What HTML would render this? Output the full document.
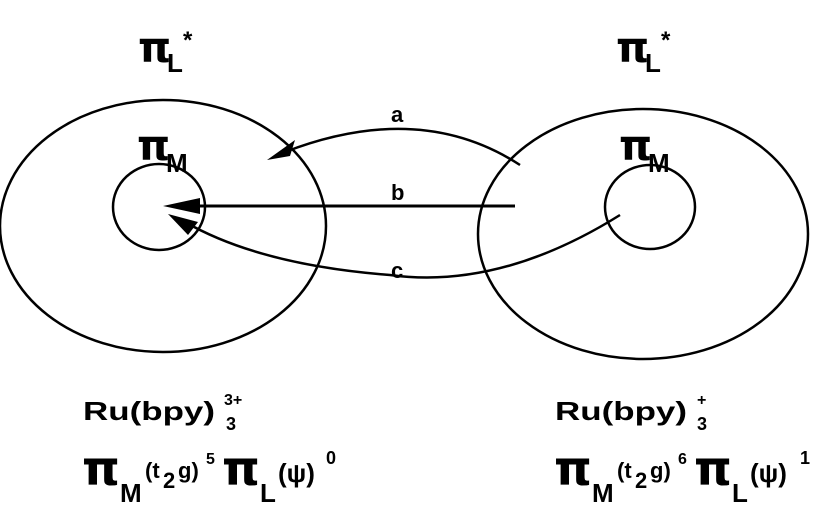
<!DOCTYPE html>
<html><head><style>
body{margin:0;background:#fff;}
svg{display:block;}
text{font-family:"Liberation Sans",sans-serif;font-weight:bold;fill:#000;}
.p{font-family:"DejaVu Sans",sans-serif;font-weight:bold;}
</style></head><body>
<svg width="839" height="521" viewBox="0 0 839 521">
<g fill="none" stroke="#000" stroke-width="2.5">
<ellipse cx="163" cy="226" rx="163" ry="126"/>
<ellipse cx="643" cy="234" rx="165" ry="125"/>
<ellipse cx="159" cy="207" rx="46" ry="43"/>
<ellipse cx="650" cy="207" rx="45" ry="42"/>
<path d="M520 165 Q420 100 285 152"/>
<path d="M515 206 L185 206" stroke-width="3"/>
<path d="M620 215 Q500 290 390 275 Q260 265 185 222"/>
</g>
<polygon points="267,160 295,140 290,156" fill="#000"/>
<polygon points="163,206 200,198 200,214" fill="#000"/>
<polygon points="168,214 198,222 188,235" fill="#000"/>
<text class="p" x="138" y="62" font-size="42">π</text><text x="167" y="72" font-size="26">L</text><text x="183" y="48" font-size="24">*</text>
<text class="p" x="616" y="62" font-size="42">π</text><text x="645" y="72" font-size="26">L</text><text x="661" y="48" font-size="24">*</text>
<text class="p" x="137" y="160" font-size="42">π</text><text x="166" y="172" font-size="26">M</text>
<text class="p" x="619" y="160" font-size="42">π</text><text x="648" y="172" font-size="26">M</text>
<text x="391" y="122" font-size="22">a</text>
<text x="391" y="200" font-size="22">b</text>
<text x="391" y="278" font-size="22">c</text>
<text x="83" y="420" font-size="26" textLength="132" lengthAdjust="spacingAndGlyphs">Ru(bpy)</text><text x="224" y="405" font-size="16">3+</text><text x="226" y="430" font-size="18">3</text>
<text x="555" y="420" font-size="26" textLength="132" lengthAdjust="spacingAndGlyphs">Ru(bpy)</text><text x="697" y="405" font-size="16">+</text><text x="697" y="430" font-size="18">3</text>
<text class="p" x="82" y="485" font-size="48">π</text><text x="120" y="502" font-size="26">M</text><text x="145" y="478" font-size="22">(t</text><text x="163" y="488" font-size="22">2</text><text x="178" y="478" font-size="22">g)</text><text x="206" y="464" font-size="16">5</text><text class="p" x="222" y="485" font-size="48">π</text><text x="260" y="502" font-size="26">L</text><text x="278" y="482" font-size="26">(ψ)</text><text x="326" y="464" font-size="18">0</text>
<text class="p" x="554" y="485" font-size="48">π</text><text x="592" y="502" font-size="26">M</text><text x="617" y="478" font-size="22">(t</text><text x="635" y="488" font-size="22">2</text><text x="650" y="478" font-size="22">g)</text><text x="678" y="464" font-size="16">6</text><text class="p" x="694" y="485" font-size="48">π</text><text x="732" y="502" font-size="26">L</text><text x="750" y="482" font-size="26">(ψ)</text><text x="800" y="464" font-size="18">1</text>
</svg>
</body></html>
